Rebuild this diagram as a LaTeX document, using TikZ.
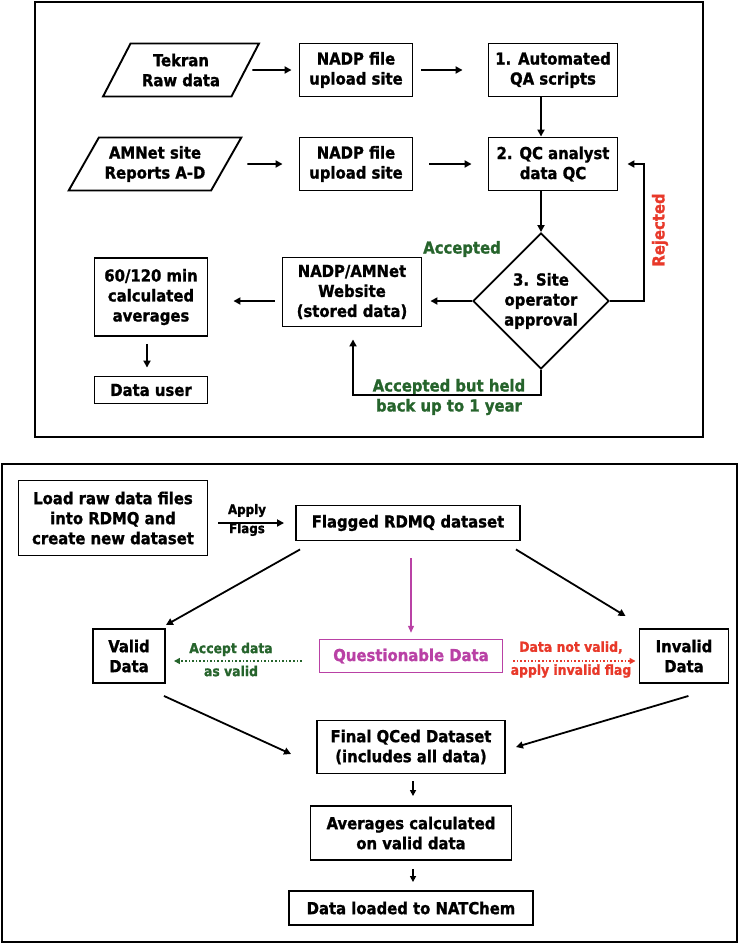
\documentclass[tikz,border=0pt]{standalone}
\usepackage{fontspec}
\newfontfamily\dv[BoldFeatures={FakeBold=1.2}]{DejaVu Sans Condensed}
\usetikzlibrary{shapes.geometric,arrows.meta}
\definecolor{grn}{RGB}{38,100,44}
\definecolor{rd}{RGB}{232,57,42}
\definecolor{mag}{RGB}{185,65,165}
\begin{document}
\begin{tikzpicture}[x=1pt,y=-1pt,
  txt/.style={font=\dv\bfseries\fontsize{16.5}{20}\selectfont,align=center,inner sep=0pt},
  box/.style={txt,draw,line width=1.9pt},
  sz/.style 2 args={minimum width=#1pt,minimum height=#2pt},
  para/.style={box,trapezium,trapezium stretches=true},
  arr/.style={line width=1.8pt,-{Triangle[length=7pt,width=7pt]}},
  sarr/.style={line width=1.6pt,-{Triangle[length=6pt,width=6pt]}},
  glab/.style={txt,text=grn},
  small/.style={font=\dv\bfseries\fontsize{13.2}{19}\selectfont,align=center,inner sep=0pt},
  lab/.style={font=\dv\bfseries\fontsize{13.8}{23}\selectfont,align=center,inner sep=0pt},
  frame/.style={line width=2.8pt}]
\useasboundingbox (0,0) rectangle (739,945);
% frames
\draw[frame] (35,2) rectangle (703,437);
\draw[frame] (2,464) rectangle (737,942);

% ---------- top section ----------
\node[para,sz={156}{53},trapezium left angle=57,trapezium right angle=123] (tek) at (181,70) {Tekran\\Raw data};
\node[box,sz={113}{53}] (up1) at (356,70) {NADP file\\upload site};
\node[box,sz={129}{53}] (auto) at (553,70) {1. Automated\\QA scripts};
\node[para,sz={173}{53},trapezium left angle=53,trapezium right angle=127] (amn) at (155,164) {AMNet site\\Reports A-D};
\node[box,sz={113}{53}] (up2) at (356,164) {NADP file\\upload site};
\node[box,sz={129}{53}] (qc) at (553,164) {2. QC analyst\\data QC};
\node[box,diamond,sz={136}{136}] (site) at (541,301) {3. Site\\operator\\approval};
\node[box,sz={139}{69}] (web) at (352,292) {NADP/AMNet\\Website\\(stored data)};
\node[box,sz={113}{78}] (avg) at (151,297) {60/120 min\\calculated\\averages};
\node[box,sz={113}{27}] (user) at (151,390) {Data user};
\node[glab] (acc) at (462,249) {Accepted};
\node[glab] (held) at (449,397) {Accepted but held\\back up to 1 year};
\node[txt,text=rd,rotate=90] (rej) at (660,230) {Rejected};

\draw[arr,shorten <=6pt,shorten >=7pt] (tek.east) -- (up1.west);
\draw[arr,shorten <=8pt,shorten >=25pt] (up1.east) -- (auto.west);
\draw[arr,shorten <=20pt,shorten >=16pt] (amn.east) -- (up2.west);
\draw[arr,shorten <=16pt,shorten >=16pt] (up2.east) -- (qc.west);
\draw[arr] (auto.south -| site.north) -- (qc.north -| site.north);
\draw[arr] (qc.south -| site.north) -- (site.north);
\coordinate (rj) at (644,164);
\draw[arr] (site.east) -| (rj) -- ([xshift=9pt]qc.east);
\draw[arr,shorten >=8pt] (site.west) -- (web.east |- site.west);
\draw[arr,shorten <=7pt,shorten >=25pt] (web.west |- site.west) -- (avg.east |- site.west);
\draw[arr,shorten <=7pt,shorten >=8pt] ([xshift=-4pt]avg.south) -- ([xshift=-4pt]user.north);
\coordinate (hb) at (353,395);
\draw[arr,shorten >=12pt] (site.south) |- (hb) -- (web.south -| hb);

% ---------- bottom section ----------
\node[box,sz={189}{75}] (load) at (113,518) {Load raw data files\\into RDMQ and\\create new dataset};
\node[box,sz={224}{35}] (flag) at (408,523) {Flagged RDMQ dataset};
\node[small] (apf) at (247,520) {Apply\\Flags};
\node[box,sz={72}{54}] (valid) at (129,656) {Valid\\Data};
\node[box,sz={183}{33},draw=mag,text=mag,line width=1.5pt] (quest) at (411,656) {Questionable Data};
\node[box,sz={89}{54}] (inval) at (684,656) {Invalid\\Data};
\node[lab,text=grn] (accl) at (231,659.5) {Accept data\\as valid};
\node[lab,text=rd] (notl) at (571,659.5) {Data not valid,\\apply invalid flag};
\node[box,sz={188}{53}] (final) at (411,747) {Final QCed Dataset\\(includes all data)};
\node[box,sz={201}{54}] (avgb) at (411,833) {Averages calculated\\on valid data};
\node[box,sz={244}{34}] (nat) at (411,908) {Data loaded to NATChem};

\draw[arr,shorten <=10pt,shorten >=11pt] (load.east |- flag.west) -- (flag.west);
\draw[arr] ([xshift=5pt,yshift=-8pt]flag.south west) -- ([yshift=3pt]valid.north east);
\draw[arr] ([xshift=-5pt,yshift=-8pt]flag.south east) -- ([xshift=-13pt,yshift=12pt]inval.north west);
\draw[line width=1.3pt,draw=mag,-{Triangle[length=7pt,width=6pt]},shorten <=17pt,shorten >=6pt] (flag.south -| quest.north) -- (quest.north);
\coordinate (dl) at (0,661);
\draw[line width=1.6pt,grn,dotted,-{Triangle[length=6pt,width=6pt]},shorten <=17pt,shorten >=8pt] (quest.west |- dl) -- (valid.east |- dl);
\draw[line width=1.6pt,rd,dotted,-{Triangle[length=6pt,width=6pt]},shorten <=10pt,shorten >=3pt] (quest.east |- dl) -- (inval.west |- dl);
\draw[arr] ([xshift=-2pt,yshift=-12pt]valid.south east) -- ([xshift=-25pt,yshift=-7pt]final.west);
\draw[arr] ([xshift=-41pt,yshift=-12pt]inval.south east) -- ([xshift=10pt]final.east);
\draw[sarr,shorten <=7pt,shorten >=9pt] ([xshift=2pt]final.south) -- ([xshift=2pt]avgb.north);
\draw[sarr,shorten <=8pt,shorten >=8pt] ([xshift=2pt]avgb.south) -- ([xshift=2pt]nat.north);
\end{tikzpicture}
\end{document}
